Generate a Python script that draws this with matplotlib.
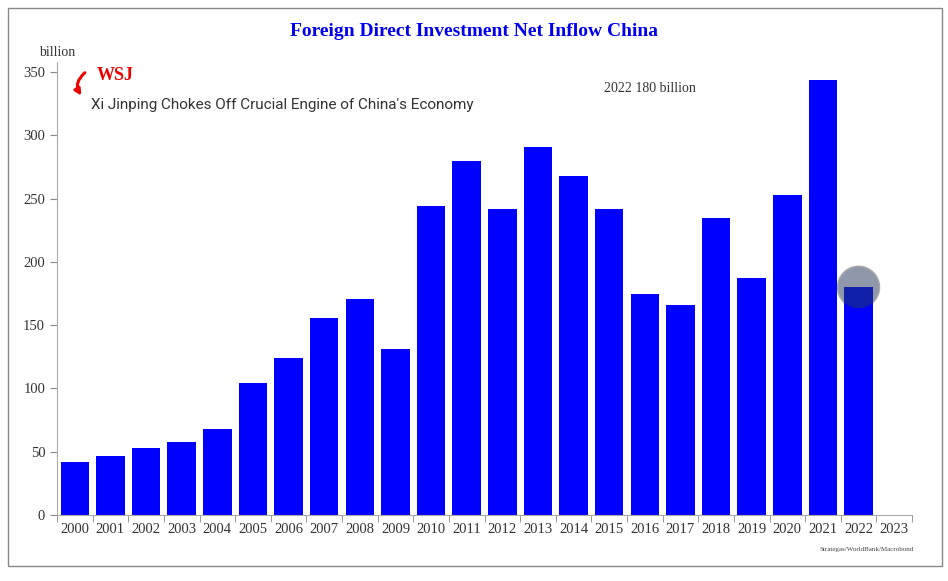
import matplotlib
matplotlib.use("Agg")
import matplotlib.pyplot as plt
from matplotlib.patches import Ellipse, Rectangle, FancyArrowPatch

years = [str(y) for y in range(2000, 2024)]
values = [42, 47, 53, 58, 68, 104, 124, 156, 171, 131, 244, 280, 242, 291, 268, 242,
          175, 166, 235, 187, 253, 344, 180, None]
yticks = [0, 50, 100, 150, 200, 250, 300, 350]

fig = plt.figure(figsize=(9.48, 5.81), dpi=100)
fig.patches.append(Rectangle((8/948, 15/581), 934/948, 558/581, transform=fig.transFigure,
                             fill=False, edgecolor="#888888", lw=1))
ax = fig.add_axes([57/948, 66/581, 855/948, 453/581])
serif = "Liberation Serif"
xs = list(range(len(years)))
bars = ax.bar([x for x, v in zip(xs, values) if v is not None],
              [v for v in values if v is not None], width=0.8, color="#0000ff", zorder=2)
ax.set_xlim(-0.5, len(years) - 0.5)
ax.set_ylim(0, 358)
ax.set_yticks(yticks)
ax.set_yticklabels([str(t) for t in yticks], fontfamily=serif, fontsize=10.5, color="#333333")
ax.set_xticks(xs)
ax.set_xticklabels(years, fontfamily=serif, fontsize=10.5, color="#333333")
ax.tick_params(axis="x", length=0, pad=6)
ax.set_xticks([x - 0.5 for x in range(len(years) + 1)], minor=True)
ax.tick_params(axis="x", which="minor", length=5, color="#888888")
ax.tick_params(axis="y", length=5, color="#888888")
for s in ["top", "right"]:
    ax.spines[s].set_visible(False)
for s in ["left", "bottom"]:
    ax.spines[s].set_color("#aaaaaa")

# circle highlight at 2022
i22 = years.index("2022")
w, h = 21*2/35.6, 21*2/1.266
ax.add_patch(Ellipse((i22, values[i22]), width=w, height=h,
                     facecolor="#8e98aa", edgecolor="#aaaaaa", lw=1, zorder=1))
dark = Ellipse((i22, values[i22]), width=w, height=h, facecolor="#1020a8",
               edgecolor="none", zorder=3)
ax.add_patch(dark)
dark.set_clip_path(bars[i22])

fig.text(0.5, 0.945, "Foreign Direct Investment Net Inflow China", ha="center", va="center",
         fontfamily=serif, fontsize=14, fontweight="bold", color="#0000ee")
fig.text(39/948, 1-52/581, "billion", fontfamily=serif, fontsize=10, color="#333333", va="center")
fig.text(97/948, 1-76/581, "WSJ", fontfamily=serif, fontsize=13, fontweight="bold", color="#ee0000", va="center")
fig.text(91/948, 1-105/581, "Xi Jinping Chokes Off Crucial Engine of China's Economy",
         fontfamily="Roboto", fontsize=11, color="#333333", va="center")
arr = FancyArrowPatch((87/948, 1-71/581), (83/948, 1-98/581), transform=fig.transFigure,
                      connectionstyle="arc3,rad=0.5", arrowstyle="-|>", mutation_scale=9,
                      color="#ee0000", lw=2.2)
fig.patches.append(arr)
fig.text(604/948, 1-89/581, "2022 180 billion", fontfamily=serif, fontsize=10, color="#333333", va="center")
fig.text(914/948, 1-550/581, "Strategas/WorldBank/Macrobond", fontfamily=serif, fontsize=5,
         color="#444444", ha="right", va="center")
fig.savefig("out.png", dpi=100)
